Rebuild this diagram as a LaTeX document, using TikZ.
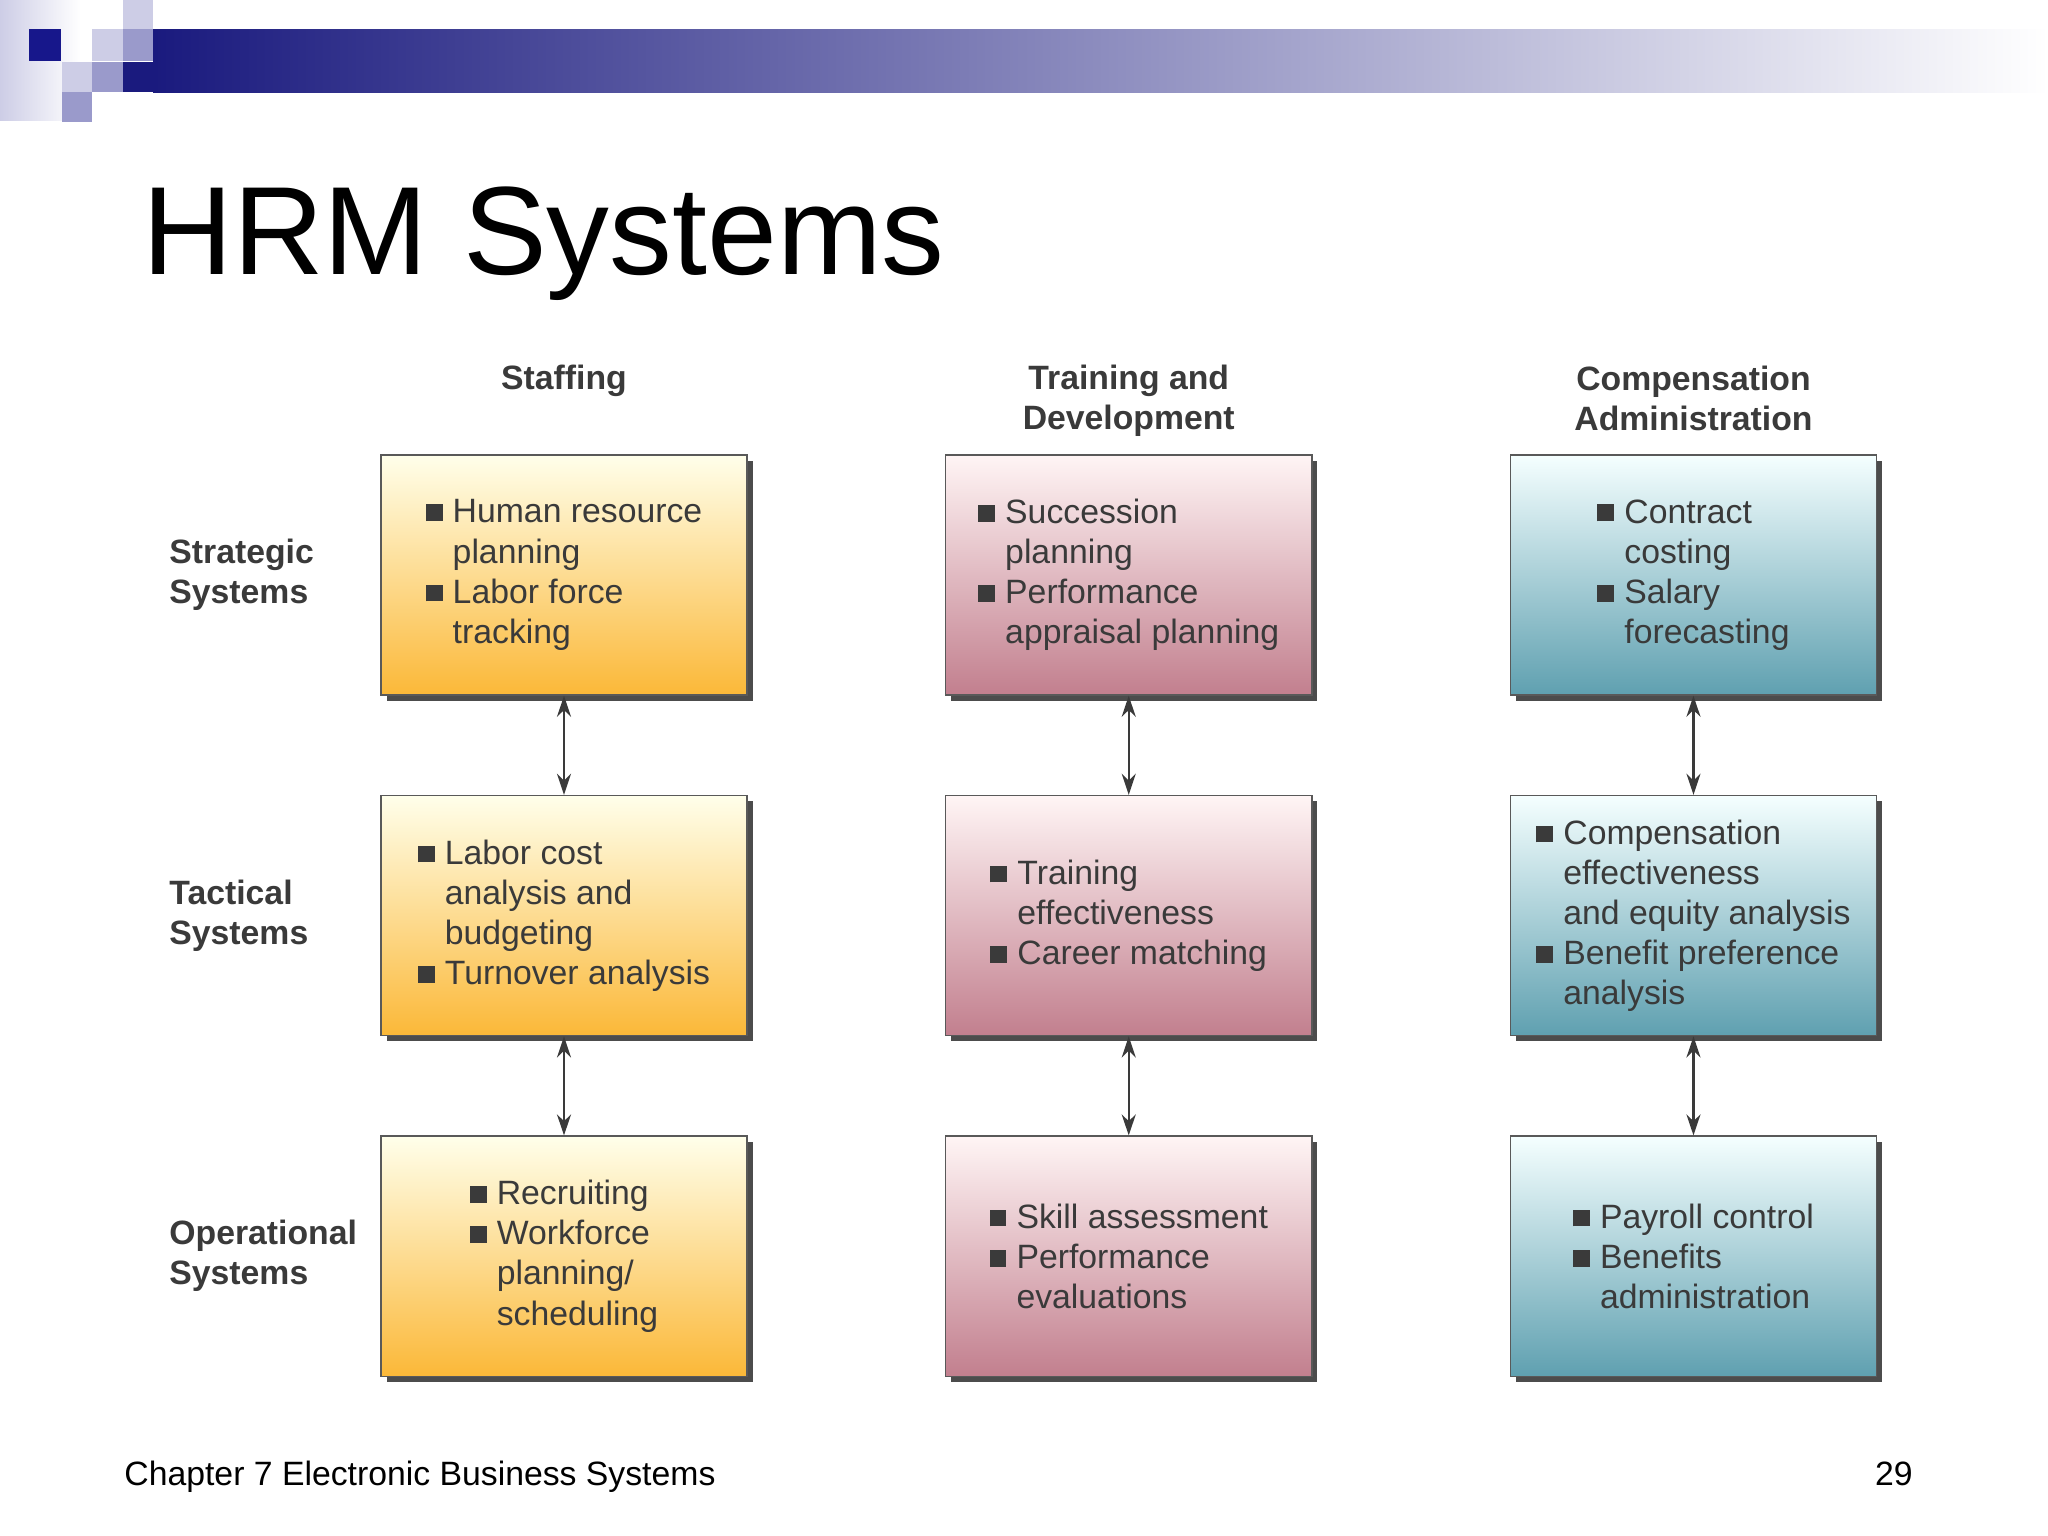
\documentclass[tikz,border=0pt]{standalone}
\usepackage{fontspec}
\setmainfont{Liberation Sans}
\usetikzlibrary{arrows.meta, positioning}
\definecolor{navy}{HTML}{1A1A7E}
\definecolor{lav}{HTML}{CDCDE6}
\definecolor{lavm}{HTML}{9A9ACB}
\definecolor{txt}{HTML}{3A3A3A}
\definecolor{orangebot}{HTML}{FBB838}
\definecolor{pinkbot}{HTML}{C27F8E}
\definecolor{tealbot}{HTML}{5FA0B0}
\newcommand{\sq}{\rule[0.1ex]{0.5em}{0.5em}\hspace{0.3em}}
\newcommand{\ind}{\hphantom{\sq}}
\begin{document}
\begin{tikzpicture}[x=0.01cm, y=-0.01cm,
    every node/.style={align=center, text=txt},
    link/.style={{Stealth[length=6pt,width=4pt]}-{Stealth[length=6pt,width=4pt]}, draw=txt, semithick},
    hrbox/.style={
        draw=black!65,
        minimum width=3.66cm,
        minimum height=2.40cm,
        align=left,
        font=\fontsize{9.6}{11.4}\selectfont,
        preaction={fill=black!70, transform canvas={shift={(1.6pt,-1.6pt)}}}
    },
    staff/.style={hrbox, top color=yellow!8!white, bottom color=orangebot},
    train/.style={hrbox, top color=red!4!white, bottom color=pinkbot},
    comp/.style={hrbox, top color=cyan!4!white, bottom color=tealbot},
    colhead/.style={font=\bfseries\fontsize{9.6}{11.4}\selectfont},
    rowhead/.style={font=\bfseries\fontsize{9.6}{11.4}\selectfont, align=left, anchor=west}
    ]
    \useasboundingbox (0,0) rectangle (2048,1536);

    % Slide decoration
    \fill[left color=lav, right color=white] (0,0) rectangle (80,120);
    \fill[left color=navy, right color=white] (153,29) rectangle (2048,92);
    \fill[navy] (123,62) rectangle (153,92);
    \fill[navy!90!blue] (29,29) rectangle (61,61);
    \fill[lav] (62,62) rectangle (92,92);
    \fill[lavm] (92,62) rectangle (123,92);
    \fill[lav] (92,29) rectangle (123,61);
    \fill[lavm] (123,29) rectangle (153,61);
    \fill[lav] (123,0) rectangle (153,29);
    \fill[lavm] (62,92) rectangle (92,122);

    % Title and footer
    \node[anchor=base west, text=black, font=\fontsize{35.7}{38}\selectfont] (title) at (130,274) {HRM Systems};
    \node[anchor=base west, text=black, font=\fontsize{9.6}{11}\selectfont] (foot) at (112,1485) {Chapter 7 Electronic Business Systems};
    \node[anchor=base east, text=black, font=\fontsize{9.6}{11}\selectfont] (page) at (1925,1485) {29};

    % Staffing column
    \node[staff] (s1) at (564,575) {\sq Human resource\\ \ind planning\\ \sq Labor force\\ \ind tracking};
    \node[staff, below=0.99cm of s1] (t1) {\sq Labor cost\\ \ind analysis and\\ \ind budgeting\\ \sq Turnover analysis};
    \node[staff, below=0.99cm of t1] (o1) {\sq Recruiting\\ \sq Workforce\\ \ind planning/\\ \ind scheduling};

    % Training column
    \node[train, right=1.97cm of s1] (s2) {\sq Succession\\ \ind planning\\ \sq Performance\\ \ind appraisal planning};
    \node[train, below=0.99cm of s2] (t2) {\sq Training\\ \ind effectiveness\\ \sq Career matching};
    \node[train, below=0.99cm of t2] (o2) {\sq Skill assessment\\ \sq Performance\\ \ind evaluations};

    % Compensation column
    \node[comp, right=1.97cm of s2] (s3) {\sq Contract\\ \ind costing\\ \sq Salary\\ \ind forecasting};
    \node[comp, below=0.99cm of s3] (t3) {\sq Compensation\\ \ind effectiveness\\ \ind and equity analysis\\ \sq Benefit preference\\ \ind analysis};
    \node[comp, below=0.99cm of t3] (o3) {\sq Payroll control\\ \sq Benefits\\ \ind administration};

    % Column headers
    \node[colhead, above=0.45cm of s1] (h1) {Staffing};
    \node[colhead, above=0.05cm of s2] (h2) {Training and\\ Development};
    \node[colhead, above=0.11cm of s3] (h3) {Compensation\\ Administration};

    % Row headers
    \coordinate (lm) at (157,0);
    \node[rowhead] (r1) at (lm |- s1) {Strategic\\ Systems};
    \node[rowhead] (r2) at (lm |- t1) {Tactical\\ Systems};
    \node[rowhead] (r3) at (lm |- o1) {Operational\\ Systems};

    % Links
    \foreach \c in {1,2,3}{
        \draw[link] (s\c.south) -- (t\c.north);
        \draw[link] (t\c.south) -- (o\c.north);
    }
\end{tikzpicture}
\end{document}
